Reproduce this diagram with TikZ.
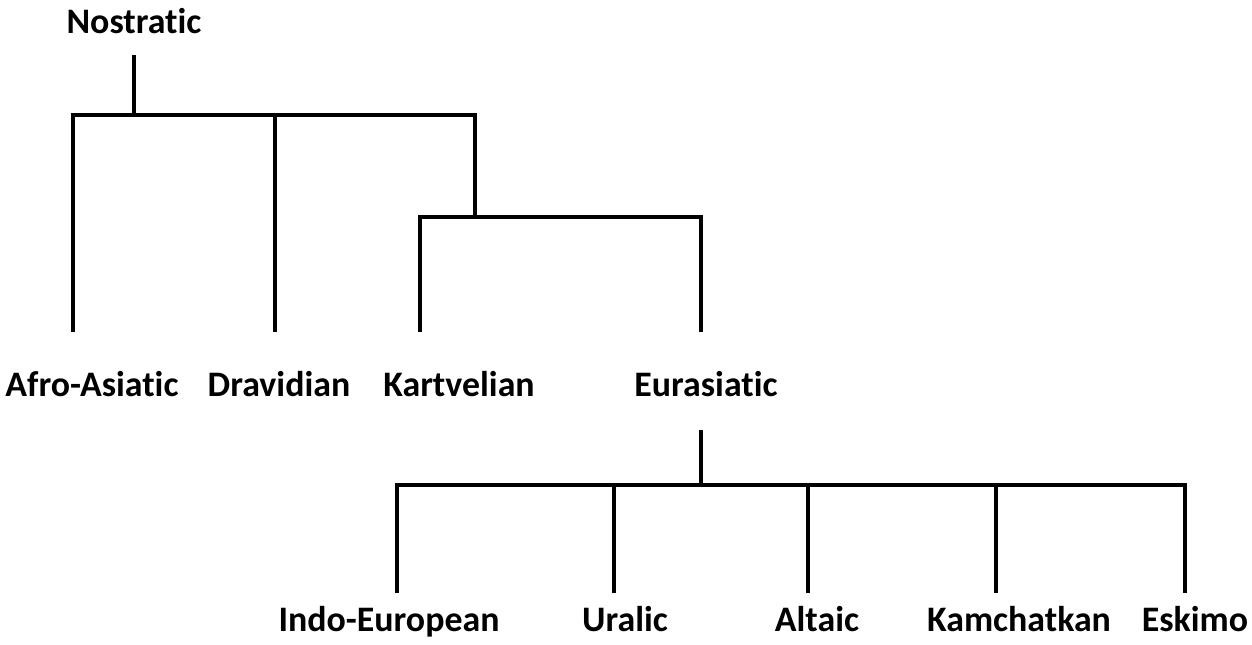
\documentclass[tikz,border=0pt]{standalone}
\usepackage{fontspec}
\setmainfont{Carlito}[Ligatures=NoCommon]
\usetikzlibrary{calc}

\begin{document}
\begin{tikzpicture}[x=0.01cm,y=-0.01cm,
		branch/.style={line width=1.1pt},
		lang/.style={anchor=base,inner sep=0pt,font=\fontsize{10.2}{12}\selectfont\bfseries}]
					\useasboundingbox (0,0) rectangle (1252,644);

					% family names
					\node[lang] (nos) at (134,33) {Nostratic};
					\node[lang] (afro) at (92,396) {Afro-Asiatic};
					\node[lang] (drav) at (279,396) {Dravidian};
					\node[lang] (kart) at (459,396) {Kartvelian};
					\node[lang] (eura) at (706,396) {Eurasiatic};
					\node[lang] (indo) at (389,631) {Indo-European};
					\node[lang] (ural) at (625,631) {Uralic};
					\node[lang] (alta) at (817,631) {Altaic};
					\node[lang] (kamc) at (1019,631) {Kamchatkan};
					\node[lang] (eski) at (1195,631) {Eskimo};

					% junctions
					\coordinate (N0) at (134,55);
					\coordinate (N1) at (134,115);
					\coordinate (L1) at (73,115);
					\coordinate (R1) at (475,115);
					\coordinate (D1) at (275,115);
					\coordinate (L2) at (420,217);
					\coordinate (R2) at (701,217);
					\coordinate (M2) at (475,217);
					\coordinate (E0) at (701,430);
					\coordinate (E1) at (701,485);
					\coordinate (L3) at (397,485);
					\coordinate (R3) at (1185,485);

					% leaf ends
					\coordinate (afro end) at (73,332);
					\coordinate (drav end) at (275,332);
					\coordinate (kart end) at (420,332);
					\coordinate (eura end) at (701,332);
					\coordinate (indo end) at (397,593);
					\coordinate (ural end) at (614,593);
					\coordinate (alta end) at (808,593);
					\coordinate (kamc end) at (996,593);
					\coordinate (eski end) at (1185,593);

					% Nostratic
					\draw[branch] (N0) -- (N1);
					\draw[branch] (afro end) -- (L1) -- (R1) -- (M2);
					\draw[branch] (D1) -- (drav end);
					\draw[branch] (kart end) -- (L2) -- (R2) -- (eura end);

					% Eurasiatic
					\draw[branch] (E0) -- (E1);
					\draw[branch] (indo end) -- (L3) -- (R3) -- (eski end);
					\foreach \leaf in {ural,alta,kamc}
						\draw[branch] (\leaf\space end) -- (\leaf\space end |- L3);
\end{tikzpicture}
\end{document}
